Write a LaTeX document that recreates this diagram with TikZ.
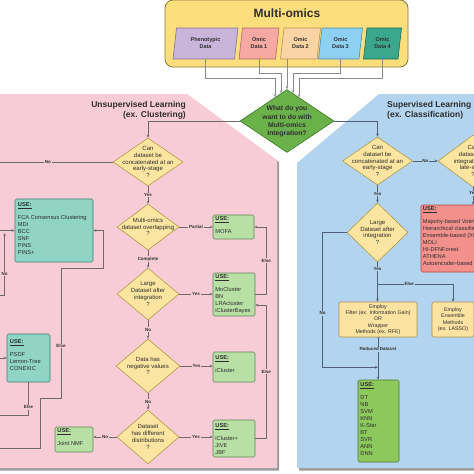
\documentclass[tikz,border=0pt]{standalone}
\usepackage{fontspec}
\setmainfont{Liberation Sans}
\usetikzlibrary{shapes.geometric,arrows.meta,calc}
\definecolor{pinkbg}{HTML}{F8CCD7}
\definecolor{bluebg}{HTML}{B3D4EE}
\definecolor{shadowc}{HTML}{9C9C9C}
\definecolor{topF}{HTML}{FCDF7C}
\definecolor{topB}{HTML}{8A7838}
\definecolor{phF}{HTML}{C9B4DA}
\definecolor{phB}{HTML}{85739A}
\definecolor{o1F}{HTML}{F6A8A2}
\definecolor{o1B}{HTML}{B06A64}
\definecolor{o2F}{HTML}{FAD4A4}
\definecolor{o2B}{HTML}{B8925C}
\definecolor{o3F}{HTML}{8ED0F2}
\definecolor{o3B}{HTML}{4A8CB0}
\definecolor{o4F}{HTML}{3BA88E}
\definecolor{o4B}{HTML}{1E6A56}
\definecolor{diaF}{HTML}{FBE5A0}
\definecolor{diaB}{HTML}{B09A48}
\definecolor{cenF}{HTML}{6BB14A}
\definecolor{cenB}{HTML}{3C7A28}
\definecolor{tealF}{HTML}{8FD4C4}
\definecolor{tealB}{HTML}{3E7C6E}
\definecolor{lgF}{HTML}{B8E0A4}
\definecolor{lgB}{HTML}{62845A}
\definecolor{rgF}{HTML}{8CC85C}
\definecolor{rgB}{HTML}{4C7A2C}
\definecolor{redF}{HTML}{F2918C}
\definecolor{redB}{HTML}{B04A46}
\definecolor{empF}{HTML}{FCE3A2}
\definecolor{empB}{HTML}{A88E4E}
\definecolor{lineP}{HTML}{6E6A6C}
\definecolor{lineB}{HTML}{4E6178}
\definecolor{lineT}{HTML}{8A8A8A}
\definecolor{txt}{HTML}{2E2E2E}
\tikzset{
  regtitle/.style={font=\fontsize{8.5}{10.5}\selectfont\bfseries, text=txt, inner sep=0pt},
  para/.style 2 args={trapezium, trapezium left angle=75, trapezium right angle=105,
    trapezium stretches body=true, fill=#1, draw=#2, line width=0.6pt, inner sep=1pt,
    align=center, font=\fontsize{5.5}{7}\selectfont\bfseries, text=txt},
  topbox/.style={draw=topB, fill=topF, line width=0.8pt, rounded corners=8pt, inner sep=0pt},
  dia/.style={diamond, draw=diaB, fill=diaF, line width=0.6pt, inner sep=0pt},
  cdia/.style={diamond, draw=cenB, fill=cenF, line width=0.6pt, inner sep=0pt},
  dtxt/.style={align=center, font=\fontsize{6}{6.8}\selectfont, text=txt, inner sep=0pt},
  cdtxt/.style={align=center, font=\fontsize{6.8}{8.3}\selectfont\bfseries, text=txt, inner sep=0pt},
  ubox/.style 2 args={draw=#2, fill=#1, line width=0.6pt, rounded corners=1.5pt, inner sep=0pt},
  btxt/.style={anchor=north west, align=left, font=\fontsize{5.7}{7}\selectfont, text=txt, inner sep=0pt},
  ctxt/.style={align=center, font=\fontsize{5.3}{6.4}\selectfont, text=txt, inner sep=0pt},
  lblp/.style={font=\fontsize{4.5}{5}\selectfont\bfseries, text=txt, fill=pinkbg, inner sep=0.7pt},
  lblb/.style={font=\fontsize{4.5}{5}\selectfont\bfseries, text=txt, fill=bluebg, inner sep=0.7pt},
  arrp/.style={draw=lineP, line width=0.6pt, -{Stealth[length=3pt,width=2.6pt]}},
  linp/.style={draw=lineP, line width=0.6pt},
  arrb/.style={draw=lineB, line width=0.6pt, -{Stealth[length=3pt,width=2.6pt]}},
  linb/.style={draw=lineB, line width=0.6pt},
  arrt/.style={draw=lineT, line width=0.6pt, -{Stealth[length=3pt,width=2.6pt]}},
}
\newcommand{\useh}{\underline{\textbf{USE:}}\\[6pt]}
\begin{document}
\begin{tikzpicture}[x=1pt,y=-1pt]
\useasboundingbox (0,0) rectangle (474,474);
\clip (0,0) rectangle (474,474);
\fill[white] (0,0) rectangle (474,474);
% regions
\fill[shadowc] (-5,96) -- (189,96) -- (279,162) -- (279,470.5) -- (-5,470.5) -- cycle;
\fill[pinkbg] (-5,94) -- (187,94) -- (277,160) -- (277,468) -- (-5,468) -- cycle;
\fill[shadowc] (299,165) -- (381,96) -- (480,96) -- (480,470.5) -- (299,470.5) -- cycle;
\fill[bluebg] (297,163) -- (379,94) -- (480,94) -- (480,468) -- (297,468) -- cycle;
\node[regtitle, align=right, anchor=east] (ult) at (186,110.5) {Unsupervised Learning\\(ex. Clustering)};
\node[regtitle, align=left, anchor=west] (slt) at (387,110.5) {Supervised Learning\\(ex. Classification)};
% top box
\node[topbox, minimum width=243pt, minimum height=67pt] (mo) at (286.5,33.5) {};
\node[font=\fontsize{12}{14}\selectfont\bfseries, text=txt, inner sep=0pt] (mot) at (287,13.5) {Multi-omics};
\node[para={phF}{phB}, minimum width=65pt, minimum height=31pt] (ph) at (205.5,43.5) {Phenotypic\\Data};
\node[para={o1F}{o1B}, minimum width=40pt, minimum height=31pt] (o1) at (259,43.5) {Omic\\Data 1};
\node[para={o2F}{o2B}, minimum width=40pt, minimum height=31pt] (o2) at (300.5,43.5) {Omic\\Data 2};
\node[para={o3F}{o3B}, minimum width=44pt, minimum height=31pt] (o3) at (340.5,43.5) {Omic\\Data 3};
\node[para={o4F}{o4B}, minimum width=38pt, minimum height=31pt] (o4) at (382.5,43.5) {Omic\\Data 4};
% central diamond
\node[cdia, minimum width=94pt, minimum height=63pt] (dc) at (287,121) {};
\node[cdtxt] (dct) at (287,121.5) {What do you\\want to do with\\Multi-omics\\Integration?};
\draw[arrt] (ph.south) |- ($(dc.north)+(-12,-11)$) -- ($(dc.north)+(-12,8)$);
\draw[arrt] (o1.south) |- ($(dc.north)+(-6,-16)$) -- ($(dc.north)+(-6,4)$);
\draw[arrt] (o2.south -| dc.north) -- (dc.north);
\draw[arrt] (o3.south) |- ($(dc.north)+(6,-16)$) -- ($(dc.north)+(6,4)$);
\draw[arrt] (o4.south) |- ($(dc.north)+(12,-11)$) -- ($(dc.north)+(12,8)$);
% left diamonds
\node[dia, minimum width=70pt, minimum height=48pt] (d1) at (148,162) {};
\node[dtxt] (d1t) at (d1) {Can\\dataset be\\concatenated at an\\early-stage\\?};
\node[dia, minimum width=62pt, minimum height=46pt] (d2) at (148,227) {};
\node[dtxt] (d2t) at (d2) {Multi-omics\\dataset overlapping\\?};
\node[dia, minimum width=62pt, minimum height=52pt] (d3) at (148,294) {};
\node[dtxt] (d3t) at (d3) {Large\\Dataset after\\integration\\?};
\node[dia, minimum width=64pt, minimum height=54pt] (d4) at (148,366) {};
\node[dtxt] (d4t) at (d4) {Data has\\negative values\\?};
\node[dia, minimum width=62pt, minimum height=54pt] (d5) at (148,437) {};
\node[dtxt] (d5t) at (d5) {Dataset\\has different\\distributions\\?};
% left boxes
\node[ubox={lgF}{lgB}, minimum width=41pt, minimum height=24pt] (mofa) at (233.5,227) {};
\node[btxt] (mofat) at ($(mofa.north west)+(2.5,1.5)$) {\useh MOFA};
\node[ubox={lgF}{lgB}, minimum width=42pt, minimum height=43pt] (moc) at (234,294.5) {};
\node[btxt] (moct) at ($(moc.north west)+(2.5,2)$) {\useh MoCluster\\BN\\LRAcluster\\iClusterBayes};
\node[ubox={lgF}{lgB}, minimum width=42pt, minimum height=30pt] (icl) at (234,367) {};
\node[btxt] (iclt) at ($(icl.north west)+(2.5,4)$) {\useh iCluster};
\node[ubox={lgF}{lgB}, minimum width=42pt, minimum height=37pt] (iclp) at (234,438.5) {};
\node[btxt] (iclpt) at ($(iclp.north west)+(2.5,3.5)$) {\useh iCluster+\\JIVE\\JBF};
\node[ubox={lgF}{lgB}, minimum width=38pt, minimum height=25pt] (jnmf) at (74,439.5) {};
\node[btxt] (jnmft) at ($(jnmf.north west)+(2.5,1.5)$) {\useh Joint NMF};
\node[ubox={tealF}{tealB}, minimum width=78pt, minimum height=63pt] (teal1) at (54,230.5) {};
\node[btxt] (teal1t) at ($(teal1.north west)+(3,4)$) {\useh FCA Consensus Clustering\\MDI\\BCC\\SNF\\PINS\\PINS+};
\node[ubox={tealF}{tealB}, minimum width=43pt, minimum height=48pt] (teal2) at (28.5,358) {};
\node[btxt] (teal2t) at ($(teal2.north west)+(3,6)$) {\useh PSDF\\Lemon-Tree\\CONEXIC};
% left connectors
\coordinate (offL1) at (-5,162);
\coordinate (offA) at (-5,230.5);
\coordinate (offB) at (-5,295);
\coordinate (offC) at (-5,448);
\coordinate (offD) at (-5,358);
\coordinate (offE) at (-5,415);
\draw[arrp] (dc.west) -| (d1.north);
\draw[linp] (d1.west) -- node[lblp, pos=0.55]{No} (offL1);
\draw[arrp] (d1.south) -- node[lblp]{Yes} (d2.north);
\draw[arrp] (d2.east) -- node[lblp]{Partial} (d2.east -| mofa.west);
\draw[arrp] (d2.south) -- node[lblp]{Complete} (d3.north);
\draw[arrp] (d3.east) -- node[lblp]{Yes} (d3.east -| moc.west);
\draw[arrp] (d3.south) -- node[lblp]{No} (d4.north);
\draw[arrp] (d4.east) -- node[lblp]{Yes} (d4.east -| icl.west);
\draw[arrp] (d4.south) -- node[lblp]{No} (d5.north);
\draw[arrp] (d5.east) -- node[lblp]{Yes} (d5.east -| iclp.west);
\draw[arrp] (d5.west) -- node[lblp]{No} (d5.west -| jnmf.east);
\draw[arrp] (moc.east) -- ++(11,0) |- node[lblp,pos=0.25]{Else} (mofa.east);
\draw[arrp] (iclp.east) -- ++(11,0) |- node[lblp,pos=0.25]{Else} ($(moc.east)+(0,10.5)$);
\draw[arrp] (offA) -- (teal1.west);
\draw[arrp] (offB) -| node[lblp,pos=0.67]{No} ($(teal1.west)+(-10,2.5)$);
\draw[arrp] (offC) -- (40,448) -- (40,398) -- (61,398) -- node[lblp,pos=0.4]{Else} (61,268) -- (103,268) -- (103,230.5) -- (teal1.east);
\draw[arrp] (offD) -- (teal2.west);
\draw[linp] (teal2.south) |- node[lblp,pos=0.38]{Else} (offE);
% right side
\node[dia, minimum width=70pt, minimum height=48pt] (bd1) at (377.5,161) {};
\node[dtxt] (bd1t) at (bd1) {Can\\dataset be\\concatenated at an\\early-stage\\?};
\node[dia, minimum width=70pt, minimum height=52pt] (bd1p) at (473,161) {};
\node[dtxt] (bd1pt) at (bd1p) {Can\\dataset be\\integrated at a\\late-stage\\?};
\node[dia, minimum width=61pt, minimum height=59pt] (bd2) at (377.5,232.5) {};
\node[dtxt] (bd2t) at (bd2) {Large\\Dataset after\\integration\\?};
\node[ubox={redF}{redB}, minimum width=104pt, minimum height=67pt] (red) at (473,238.5) {};
\node[btxt] (redt) at ($(red.north west)+(2,2)$) {\useh Majority-based Voting\\Hierarchical classifier\\Ensemble-based (XGBoost)\\MOLI\\HI-DFNForest\\ATHENA\\Autoencoder-based};
\node[ubox={empF}{empB}, minimum width=78pt, minimum height=35pt] (filt) at (378,319.5) {};
\node[ctxt] (filtt) at (filt) {Employ\\Filter (ex. Information Gain)\\OR\\Wrapper\\Methods (ex. RFE)};
\node[ubox={empF}{empB}, minimum width=42pt, minimum height=35pt] (ens) at (453,319.5) {};
\node[ctxt] (enst) at (ens) {Employ\\Ensemble\\Methods\\(ex. LASSO)};
\node[ubox={rgF}{rgB}, minimum width=41pt, minimum height=82pt] (rg) at (378.5,421) {};
\node[btxt] (rgt) at ($(rg.north west)+(2.5,2.5)$) {\useh DT\\NB\\SVM\\KNN\\K-Star\\BT\\SVR\\ANN\\DNN};
\coordinate (j) at (377.5,284);
\coordinate (jn) at ($(filt.south)+(0,30)$);
\draw[arrb] (dc.east) -| (bd1.north);
\draw[arrb] (bd1.east) -- node[lblb]{No} (bd1p.west);
\draw[arrb] (bd1.south) -- node[lblb]{Yes} (bd2.north);
\draw[arrb] (bd1p.south) -- node[lblb,pos=0.35]{Yes} (bd1p.south |- red.north);
\draw[linb] (bd2.south) -- node[lblb,pos=0.3]{Yes} (j);
\draw[arrb] (j) -- (j |- filt.north);
\draw[arrb] (j) -| node[lblb,pos=0.21]{Else} (ens.north);
\draw[arrb] (bd2.west) -- ++(-24,0) |- node[lblb,pos=0.3]{No} (jn);
\draw[arrb] (filt.south) -- node[lblb,pos=0.28]{Reduced Dataset} (filt.south |- rg.north);
\end{tikzpicture}
\end{document}
